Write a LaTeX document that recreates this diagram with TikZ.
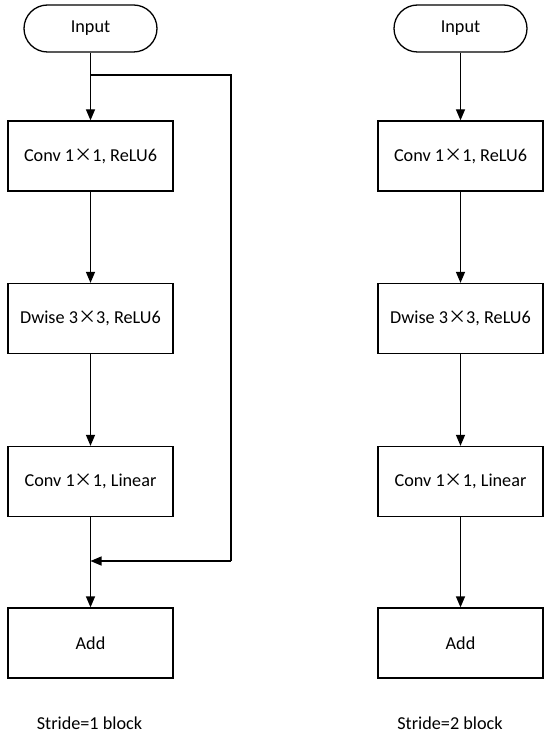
\documentclass[tikz,border=0pt]{standalone}
\usepackage{fontspec}
\setmainfont{Carlito}
\newfontfamily\cjkfont{Noto Sans CJK SC}
\usetikzlibrary{arrows.meta}
\newcommand{\tms}{{\cjkfont ×}}
\begin{document}
\begin{tikzpicture}[x=1pt,y=-1pt,
  every node/.style={font=\fontsize{18.2}{21}\selectfont, inner sep=0pt},
  pill/.style={draw, line width=1.3pt, rounded corners=23.5pt, minimum width=133pt, minimum height=47pt},
  blockbox/.style={draw, line width=1.3pt, minimum width=165pt, minimum height=70pt},
  flow/.style={line width=1.3pt, -{Triangle[length=11pt,width=9pt]}},
  plain/.style={line width=1.3pt}]
\useasboundingbox (0,0) rectangle (550,735);
% left column
\node[pill] (inL) at (90.5,28.5) {Input};
\node[blockbox] (c1L) at (90.5,156) {Conv 1\tms1, ReLU6};
\node[blockbox] (c2L) at (90.5,318.5) {Dwise 3\tms3, ReLU6};
\node[blockbox] (c3L) at (90.5,481.5) {Conv 1\tms1, Linear};
\node[blockbox] (addL) at (90.5,643) {Add};
\node (labL) at (89.5,723) {Stride=1 block};
\coordinate (sp) at (90.5,75);
\coordinate (sr) at (231,75);
\coordinate (sb) at (231,561);
\coordinate (sj) at (90.5,561);
\draw[flow] (inL) -- (c1L);
\draw[flow] (c1L) -- (c2L);
\draw[flow] (c2L) -- (c3L);
\draw[flow] (c3L) -- (addL);
\draw[plain] (sp) -- (sr) -- (sb);
\draw[flow] (sb) -- (sj);
% right column
\node[pill] (inR) at (460.5,28.5) {Input};
\node[blockbox] (c1R) at (460.5,156) {Conv 1\tms1, ReLU6};
\node[blockbox] (c2R) at (460.5,318.5) {Dwise 3\tms3, ReLU6};
\node[blockbox] (c3R) at (460.5,481.5) {Conv 1\tms1, Linear};
\node[blockbox] (addR) at (460.5,643) {Add};
\node (labR) at (450,723) {Stride=2 block};
\draw[flow] (inR) -- (c1R);
\draw[flow] (c1R) -- (c2R);
\draw[flow] (c2R) -- (c3R);
\draw[flow] (c3R) -- (addR);
\end{tikzpicture}
\end{document}
